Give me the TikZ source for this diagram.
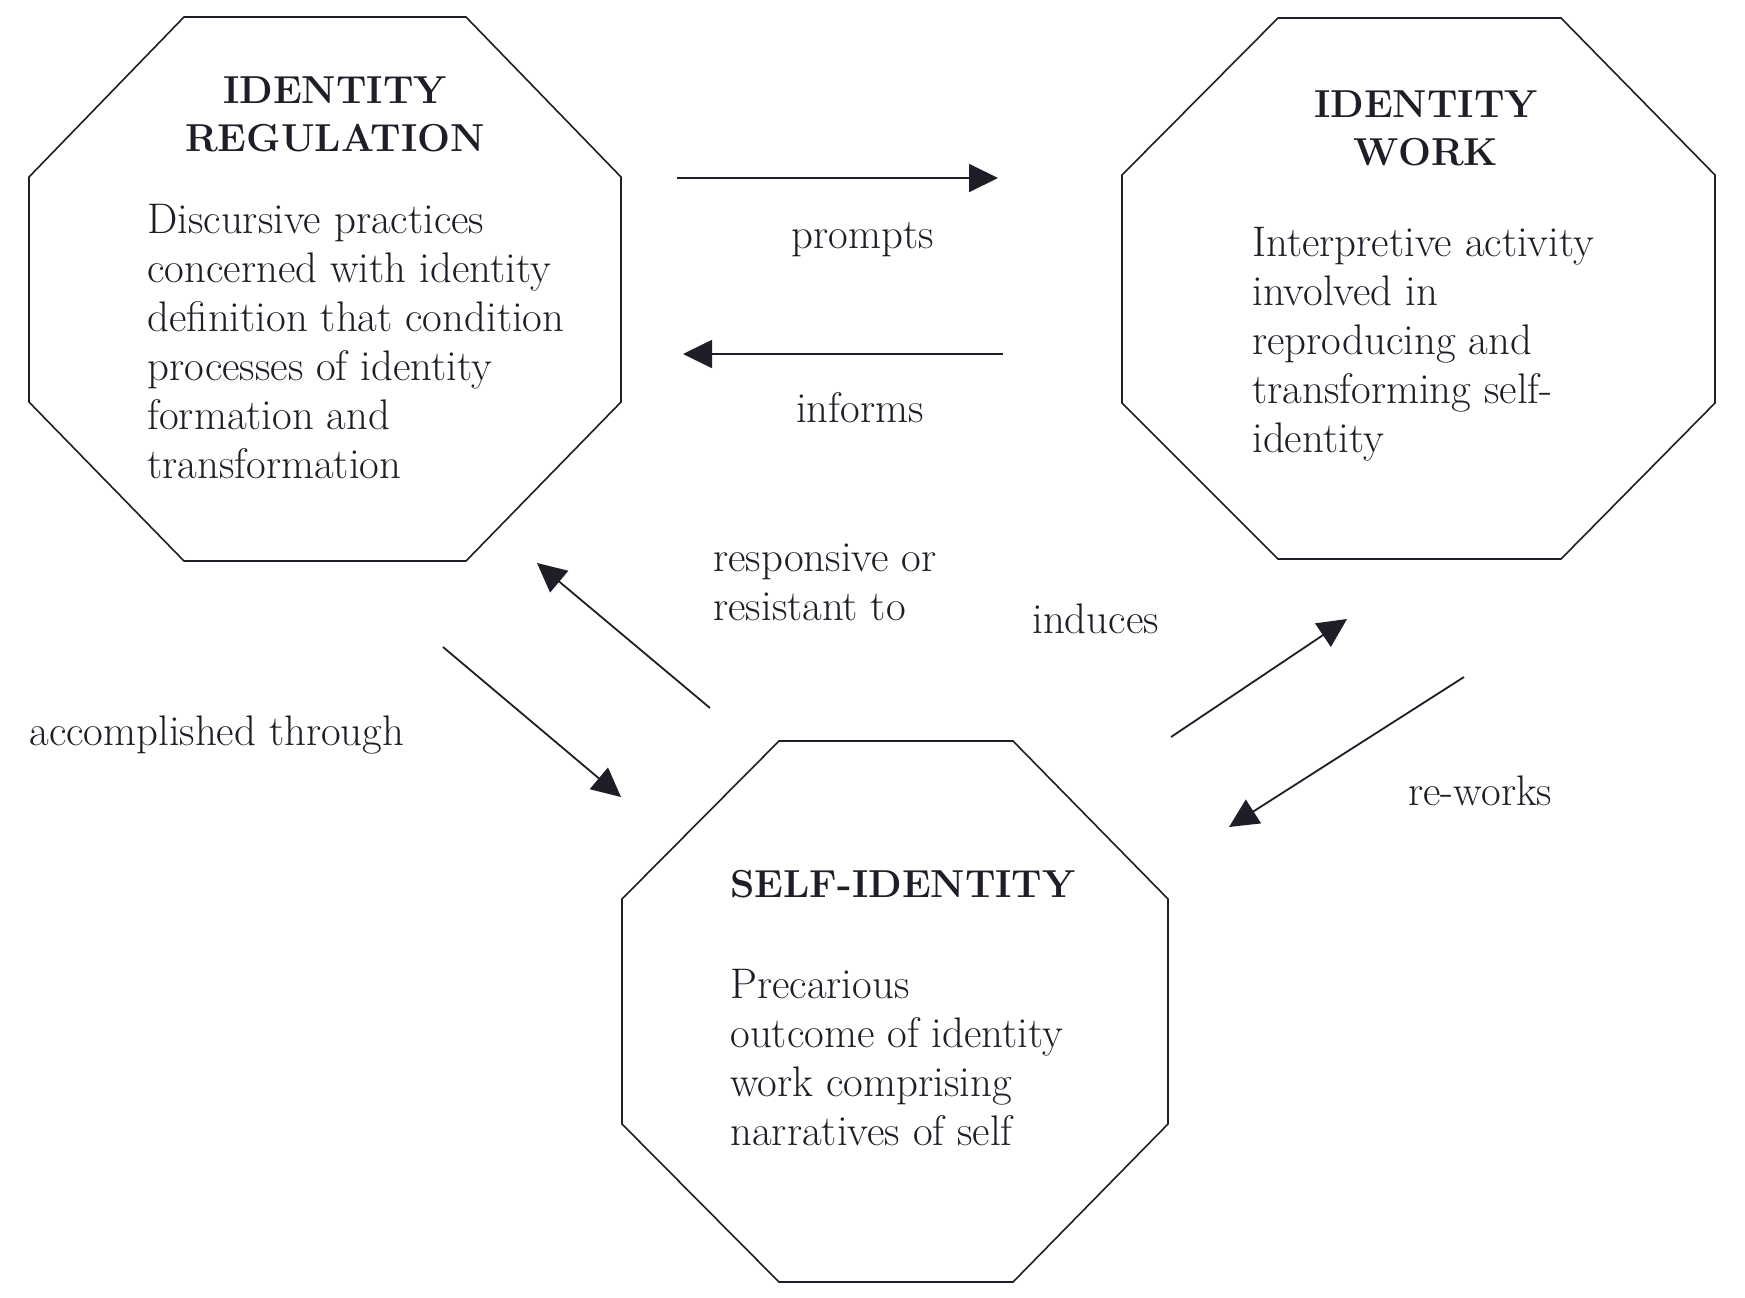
\documentclass[tikz,border=0pt]{standalone}
\usetikzlibrary{arrows.meta}
\definecolor{ink}{RGB}{30,30,40}
\begin{document}
\begin{tikzpicture}[x=0.5pt,y=-0.5pt,
  octo/.style={draw=ink, line width=0.8pt, line join=miter},
  conn/.style={draw=ink, line width=0.9pt, -{Triangle[length=14.5pt,width=14pt]}},
  ttl/.style={font=\fontsize{19.5}{24}\selectfont\bfseries, text=ink, align=center, inner sep=0pt},
  body/.style={font=\fontsize{21.4}{24.5}\selectfont, text=ink, align=left, inner sep=0pt},
  lbl/.style={font=\fontsize{21.4}{24.5}\selectfont, text=ink, inner sep=0pt}]
\useasboundingbox (0,0) rectangle (1745,1297);
\fill[white] (0,0) rectangle (1745,1297);

% octagons
\draw[octo] (184,17) -- (466,17) -- (621,177) -- (621,402) -- (466,561) -- (184,561) -- (29,402) -- (29,177) -- cycle;
\draw[octo] (1278,18) -- (1561,18) -- (1715,175) -- (1715,403) -- (1561,559) -- (1278,559) -- (1122,403) -- (1122,175) -- cycle;
\draw[octo] (779,741) -- (1013,741) -- (1168,899) -- (1168,1124) -- (1013,1282) -- (779,1282) -- (622,1124) -- (622,899) -- cycle;

% titles
\node[ttl, anchor=north] (regT) at (335,76) {IDENTITY\\REGULATION};
\node[ttl, anchor=north] (workT) at (1426,90) {IDENTITY\\WORK};
\node[ttl, anchor=base] (selfT) at (903,897) {SELF-IDENTITY};

% bodies
\node[body, anchor=north west] (regB) at (147,204) {Discursive practices\\concerned with identity\\definition that condition\\processes of identity\\formation and\\transformation};
\node[body, anchor=north west] (workB) at (1252,227) {Interpretive activity\\involved in\\reproducing and\\transforming self-\\identity};
\node[body, anchor=north west] (selfB) at (730,969) {Precarious\\outcome of identity\\work comprising\\narratives of self};

% labels
\node[lbl, anchor=base] (lPrompts) at (863,248) {prompts};
\node[lbl, anchor=base] (lInforms) at (860,422) {informs};
\node[lbl, anchor=north west, align=left] (lResp) at (713,543) {responsive or\\resistant to};
\node[lbl, anchor=base west] (lInduces) at (1032,633) {induces};
\node[lbl, anchor=base west] (lAccomp) at (29,745) {accomplished through};
\node[lbl, anchor=base west] (lRework) at (1408,805) {re-works};

% connector end points
\coordinate (pA) at (677,178);  \coordinate (pB) at (998,178);
\coordinate (iA) at (1003,354); \coordinate (iB) at (683,354);
\coordinate (rA) at (710,708);  \coordinate (rB) at (537,563);
\coordinate (aA) at (443,647);  \coordinate (aB) at (621,797);
\coordinate (nA) at (1171,737); \coordinate (nB) at (1347,619);
\coordinate (wA) at (1464,677); \coordinate (wB) at (1229,827);

\draw[conn] (pA) -- (pB);
\draw[conn] (iA) -- (iB);
\draw[conn] (rA) -- (rB);
\draw[conn] (aA) -- (aB);
\draw[conn] (nA) -- (nB);
\draw[conn] (wA) -- (wB);
\end{tikzpicture}
\end{document}
